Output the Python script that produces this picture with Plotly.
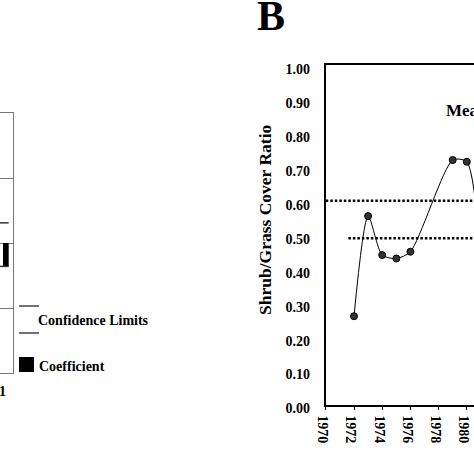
import plotly.graph_objects as go

# panel B: shrub/grass cover ratio by year
years = [1972, 1973, 1974, 1975, 1976, 1979, 1980, 1981]
ratio = [0.26, 0.555, 0.44, 0.43, 0.45, 0.72, 0.715, 0.42]
mean_upper = 0.60
mean_lower = 0.49

# panel A: coefficient with confidence limits (only its right edge is visible)
coef_x = [0.46]
coef_val = [-0.36]
ci_val = [0.31, -0.36]
coef_ticktext = ["1"]

W = H = 474
serif = "Liberation Serif"


def px(v):
    return v / W


def py(v):
    return 1 - v / H


fig = go.Figure()

# panel B traces
fig.add_trace(go.Scatter(
    x=years, y=ratio, mode="lines+markers",
    line=dict(shape="spline", smoothing=0.7, color="black", width=1),
    marker=dict(size=7, color="#333333", line=dict(color="black", width=1)),
    xaxis="x", yaxis="y",
))
fig.add_trace(go.Scatter(
    x=[1970, 1982], y=[mean_upper, mean_upper], mode="lines",
    line=dict(color="black", width=2.5, dash="2.5px,2px"),
    xaxis="x", yaxis="y",
))
fig.add_trace(go.Scatter(
    x=[1971.6, 1982], y=[mean_lower, mean_lower], mode="lines",
    line=dict(color="black", width=2.5, dash="2.5px,2px"),
    xaxis="x", yaxis="y",
))

# panel A traces
fig.add_trace(go.Bar(
    x=coef_x, y=coef_val, width=0.45, marker=dict(color="black", line=dict(width=0)),
    xaxis="x2", yaxis="y2",
))
fig.add_trace(go.Scatter(
    x=[0.24] * len(ci_val), y=ci_val, mode="markers",
    marker=dict(symbol="line-ew", size=8, line=dict(color="#333333", width=1.5)),
    cliponaxis=False, xaxis="x2", yaxis="y2",
))

tick_font = dict(family=serif, size=14, color="black", weight="bold")

fig.update_layout(
    width=W, height=H,
    margin=dict(l=0, r=0, t=0, b=0),
    paper_bgcolor="white", plot_bgcolor="white",
    showlegend=False,
    font=dict(family=serif, color="black"),
    xaxis=dict(
        domain=[px(325.8), 1], range=[1970, 1980.51],
        tick0=1970, dtick=2, tickangle=90,
        ticks="outside", ticklen=3, tickcolor="black",
        showline=True, linecolor="black", linewidth=2, mirror=True,
        showgrid=False, zeroline=False, tickfont=tick_font,
        ticklabelstandoff=3, ticklabelshift=-3,
        ticklabeloverflow="allow", automargin=False,
    ),
    yaxis=dict(
        domain=[py(404.5), py(65)], range=[0, 1],
        dtick=0.1, tickformat=".2f",
        showline=True, linecolor="black", linewidth=2,
        showgrid=False, zeroline=False, tickfont=tick_font,
        ticklabelstandoff=11, ticklabelshift=4, automargin=False,
    ),
    xaxis2=dict(
        domain=[0, px(12.7)], range=[0, 1],
        tickvals=[0.2], ticktext=coef_ticktext, ticks="",
        showline=True, linecolor="#777777", linewidth=1, mirror=True,
        showgrid=False, zeroline=False, tickfont=tick_font,
        ticklabelstandoff=5, anchor="y2",
        ticklabeloverflow="allow", automargin=False,
    ),
    yaxis2=dict(
        domain=[py(373), py(113)], range=[-2, 2], dtick=1,
        side="right", showticklabels=False, ticks="",
        showline=True, linecolor="#777777", linewidth=1,
        showgrid=True, gridcolor="#777777", gridwidth=1,
        zeroline=False, anchor="x2", automargin=False,
    ),
)

# legend of panel A
for yy in [306, 333]:
    fig.add_shape(type="line", xref="paper", yref="paper",
                  x0=px(19), x1=px(39), y0=py(yy), y1=py(yy),
                  line=dict(color="#444444", width=1.5))
fig.add_shape(type="rect", xref="paper", yref="paper",
              x0=px(19), x1=px(34), y0=py(372), y1=py(357),
              fillcolor="black", line=dict(width=0))

legend_font = dict(family=serif, size=14, color="black", weight="bold")
fig.add_annotation(text="Confidence Limits", xref="paper", yref="paper",
                   x=px(36), y=py(320), xanchor="left", yanchor="middle",
                   showarrow=False, font=legend_font)
fig.add_annotation(text="Coefficient", xref="paper", yref="paper",
                   x=px(37), y=py(366), xanchor="left", yanchor="middle",
                   showarrow=False, font=legend_font)

# panel B labels
fig.add_annotation(text="B", xref="paper", yref="paper",
                   x=px(256), y=py(16), xanchor="left", yanchor="middle",
                   showarrow=False, borderpad=0,
                   font=dict(family=serif, size=42, color="black", weight="bold"))
fig.add_annotation(text="Shrub/Grass Cover Ratio", xref="paper", yref="paper",
                   x=px(265), y=py(220), xanchor="center", yanchor="middle",
                   textangle=-90, showarrow=False,
                   font=dict(family=serif, size=17.5, color="black", weight="bold"))
fig.add_annotation(text="Mean", xref="paper", yref="paper",
                   x=px(444), y=py(110), xanchor="left", yanchor="middle",
                   showarrow=False,
                   font=dict(family=serif, size=17, color="black", weight="bold"))

# drop the default page margin so the figure sits at the window corner
fig.write_html("out.html",
               config={"displayModeBar": False},
               post_script="document.body.style.margin='0px';"
                           "document.body.style.overflow='hidden';")
